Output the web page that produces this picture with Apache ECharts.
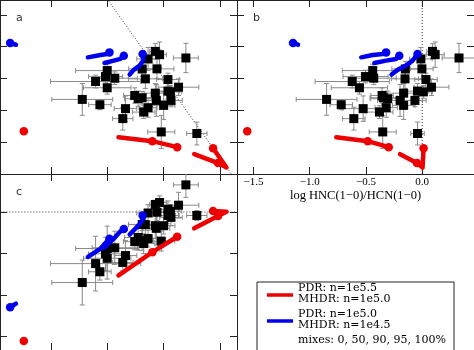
<!DOCTYPE html>
<html><head><meta charset="utf-8">
<script src="https://cdn.jsdelivr.net/npm/echarts@6/dist/echarts.min.js"></script>
<style>html,body{margin:0;padding:0;background:#fff}#c{width:474px;height:350px}</style>
</head><body><div id="c"></div><script>
// Observed sources: X1 = x of panels a & c, Y1 = y of panels a & b,
// H = log HNC(1-0)/HCN(1-0) (x of panel b, y of panel c)
const srcX1 = [-0.303,-0.574,-0.536,-0.638,-0.559,-1.000,-1.015,-0.933,-1.103,-0.662,-0.462,-1.000,-0.368,-0.462,-0.574,-0.756,-0.726,-0.691,-0.565,-0.435,-0.500,-1.221,-1.065,-0.838,-0.638,-0.677,-0.862,-0.521,-0.206,-0.440,-0.690];
const srcY1 = [1.323,1.427,1.375,1.308,1.152,1.125,1.031,1.005,0.953,0.995,0.984,0.855,0.864,0.802,0.770,0.734,0.683,0.698,0.656,0.656,0.578,0.672,0.589,0.527,0.542,0.473,0.370,0.161,0.136,0.790,1.150];
const srcH  = [0.327,0.091,0.115,-0.012,-0.003,-0.440,-0.504,-0.431,-0.622,-0.153,0.033,-0.558,0.082,-0.042,-0.165,-0.357,-0.307,-0.345,-0.197,-0.065,-0.165,-0.850,-0.720,-0.525,-0.320,-0.380,-0.608,-0.351,-0.042,0.010,-0.150];
const errX1 = [0.11,0.05,0.06,0.10,0.15,0.28,0.15,0.20,0.40,0.15,0.10,0.21,0.18,0.10,0.10,0.10,0.12,0.10,0.12,0.10,0.10,0.27,0.10,0.10,0.08,0.10,0.09,0.12,0.09,0.10,0.12];
const errY1 = [0.23,0.12,0.20,0.18,0.15,0.10,0.10,0.10,0.10,0.15,0.10,0.10,0.13,0.12,0.15,0.12,0.12,0.10,0.25,0.10,0.22,0.25,0.08,0.20,0.15,0.10,0.18,0.26,0.18,0.10,0.12];
const errH  = [0.15,0.05,0.08,0.10,0.10,0.27,0.20,0.20,0.33,0.12,0.10,0.25,0.155,0.10,0.15,0.10,0.15,0.12,0.20,0.10,0.10,0.27,0.10,0.18,0.10,0.12,0.10,0.12,0.06,0.08,0.12];

// Model: PDR n=1e5.5 / MHDR n=1e5.0 (red)
const redA_X1 = [-0.900,-0.600,-0.380];
const redA_Y1 = [0.078,0.016,-0.078];
const redA_H  = [-0.764,-0.484,-0.298];
const redB_X1 = [-0.229,-0.018,0.057,-0.062];
const redB_Y1 = [-0.188,-0.328,-0.398,-0.094];
const redB_H  = [-0.197,-0.047,0.003,0.012];
const redDot_X1 = [-1.739,-0.600,-0.380,-0.018,-0.062];
const redDot_Y1 = [0.172,0.016,-0.078,-0.328,-0.094];
const redDot_H  = [-1.555,-0.484,-0.298,-0.047,0.012];
// Model: PDR n=1e5.0 / MHDR n=1e4.5 (blue)
const blue0_X1 = [-1.860,-1.809];
const blue0_Y1 = [1.558,1.531];
const blue0_H  = [-1.148,-1.104];
const blue1_X1 = [-1.171,-1.059,-1.000,-0.980];
const blue1_Y1 = [1.333,1.370,1.386,1.411];
const blue1_H  = [-0.542,-0.440,-0.351,-0.321];
const blue2_X1 = [-1.024,-0.942,-0.883,-0.853];
const blue2_Y1 = [1.245,1.281,1.308,1.359];
const blue2_H  = [-0.425,-0.321,-0.233,-0.204];
const blue3_X1 = [-0.801,-0.765,-0.712,-0.682,-0.686];
const blue3_Y1 = [1.0625,1.136,1.203,1.281,1.386];
const blue3_H  = [-0.272,-0.219,-0.144,-0.086,-0.042];
const blueDot_X1 = [-1.860,-0.980,-0.853,-0.686];
const blueDot_Y1 = [1.558,1.411,1.359,1.386];
const blueDot_H  = [-1.148,-0.321,-0.204,-0.042];

// reference dotted lines
const diagA_X1 = [-1.0, 0.1];
const diagA_Y1 = [2.25, -0.5];
const refB_H = [0, 0];
const refB_Y1 = [-0.5, 2.3];
const refC_X1 = [-2.0, 0.2];
const refC_H = [0, 0];

// ticks
const ticksX1 = [-1.5,-1.0,-0.5,0.0];
const ticksY1 = [-0.5,0,0.5,1.0,1.5,2.0];
const ticksHb = [-1.5,-1.0,-0.5,0.0];
const ticksHc = [0,-0.5,-1.0,-1.5];
const panelNames = ['a','b','c'];
const xTitle = 'log HNC(1\u22120)/HCN(1\u22120)';
const legendRows = ['PDR: n=1e5.5','MHDR: n=1e5.0','PDR: n=1e5.0','MHDR: n=1e4.5','mixes: 0, 50, 90, 95, 100%'];

const RED = '#ee0000', BLUE = '#0000ee';
const zip = (a,b) => a.map((v,i)=>[v,b[i]]);
const axisCol = '#222';

function axis(gridIndex, position, min, max, ticks, label, extra) {
  return Object.assign({
    type:'value', gridIndex, position, min, max,
    axisLine:{show:true, onZero:false, lineStyle:{color:axisCol, width:1}},
    axisTick:{show:true, inside:true, length:7, customValues:ticks, lineStyle:{color:axisCol, width:1}},
    axisLabel: label ? {show:true, customValues:ticks, margin:3, color:'#000',
        fontFamily:'Liberation Serif', fontSize:11,
        formatter: v => (v<0?'\u2212':'') + Math.abs(v).toFixed(1)} : {show:false},
    splitLine:{show:false}
  }, extra||{});
}

const X1min=-1.95, X1max=0.15, Y1min=-0.5, Y1max=2.234, Hbmin=-1.646, Hbmax=0.46, Hcmin=-1.663, Hcmax=0.458;

const xAxes = [
  axis(0,'bottom',X1min,X1max,ticksX1,false),
  axis(0,'top',X1min,X1max,ticksX1,false),
  axis(1,'bottom',Hbmin,Hbmax,ticksHb,true,{name:xTitle,nameLocation:'middle',nameGap:12,
     nameTextStyle:{fontFamily:'Liberation Serif',fontSize:12.5,color:'#000'}}),
  axis(1,'top',Hbmin,Hbmax,ticksHb,false),
  axis(2,'bottom',X1min,X1max,ticksX1,false),
  axis(2,'top',X1min,X1max,ticksX1,false)
];
const yAxes = [
  axis(0,'left',Y1min,Y1max,ticksY1,false),
  axis(0,'right',Y1min,Y1max,ticksY1,false),
  axis(1,'left',Y1min,Y1max,ticksY1,false),
  axis(1,'right',Y1min,Y1max,ticksY1,false),
  axis(2,'left',Hcmin,Hcmax,ticksHc,false),
  axis(2,'right',Hcmin,Hcmax,ticksHc,false)
];

function errRender(params, api) {
  const x=api.value(0), y=api.value(1), ex=api.value(2), ey=api.value(3);
  const c=api.coord([x,y]), l=api.coord([x-ex,y]), r=api.coord([x+ex,y]);
  const t=api.coord([x,y+ey]), b=api.coord([x,y-ey]);
  const cap=2.5, st={stroke:'#8a8a8a', lineWidth:1};
  return {type:'group', children:[
    {type:'line', shape:{x1:l[0],y1:c[1],x2:r[0],y2:c[1]}, style:st},
    {type:'line', shape:{x1:l[0],y1:c[1]-cap,x2:l[0],y2:c[1]+cap}, style:st},
    {type:'line', shape:{x1:r[0],y1:c[1]-cap,x2:r[0],y2:c[1]+cap}, style:st},
    {type:'line', shape:{x1:c[0],y1:t[1],x2:c[0],y2:b[1]}, style:st},
    {type:'line', shape:{x1:c[0]-cap,y1:t[1],x2:c[0]+cap,y2:t[1]}, style:st},
    {type:'line', shape:{x1:c[0]-cap,y1:b[1],x2:c[0]+cap,y2:b[1]}, style:st}
  ]};
}

const src = {X1:srcX1, Y1:srcY1, H:srcH};
const err = {X1:errX1, Y1:errY1, H:errH};
const redCurves = [{X1:redA_X1,Y1:redA_Y1,H:redA_H},{X1:redB_X1,Y1:redB_Y1,H:redB_H}];
const blueCurves = [{X1:blue0_X1,Y1:blue0_Y1,H:blue0_H},{X1:blue1_X1,Y1:blue1_Y1,H:blue1_H},
                    {X1:blue2_X1,Y1:blue2_Y1,H:blue2_H},{X1:blue3_X1,Y1:blue3_Y1,H:blue3_H}];
const redDots = {X1:redDot_X1,Y1:redDot_Y1,H:redDot_H};
const blueDots = {X1:blueDot_X1,Y1:blueDot_Y1,H:blueDot_H};
const refLines = [zip(diagA_X1,diagA_Y1), zip(refB_H,refB_Y1), zip(refC_X1,refC_H)];

const panels = [{kx:'X1',ky:'Y1',ax:0},{kx:'H',ky:'Y1',ax:2},{kx:'X1',ky:'H',ax:4}];
const series = [];
panels.forEach((p,pi)=>{
  const ai = {xAxisIndex:p.ax, yAxisIndex:p.ax};
  series.push(Object.assign({type:'line', data:refLines[pi], showSymbol:false, silent:true, z:1,
     lineStyle:{color:'#333', width:1, type:[1,2]}}, ai));
  series.push(Object.assign({type:'custom', renderItem:errRender, clip:true, z:2,
     data: src[p.kx].map((v,i)=>[v, src[p.ky][i], err[p.kx][i], err[p.ky][i]])}, ai));
  series.push(Object.assign({type:'scatter', symbol:'rect', symbolSize:9, z:3,
     itemStyle:{color:'#000', opacity:1}, data: zip(src[p.kx], src[p.ky])}, ai));
  redCurves.forEach(c=>series.push(Object.assign({type:'line', data:zip(c[p.kx],c[p.ky]), showSymbol:false, z:4,
     lineStyle:{color:RED, width:4.5, cap:'round', join:'round'}}, ai)));
  blueCurves.forEach(c=>series.push(Object.assign({type:'line', data:zip(c[p.kx],c[p.ky]), showSymbol:false, z:4,
     lineStyle:{color:BLUE, width:4.5, cap:'round', join:'round'}}, ai)));
  series.push(Object.assign({type:'scatter', symbol:'circle', symbolSize:8.5, z:5,
     itemStyle:{color:RED, opacity:1}, data: zip(redDots[p.kx], redDots[p.ky])}, ai));
  series.push(Object.assign({type:'scatter', symbol:'circle', symbolSize:8.5, z:5,
     itemStyle:{color:BLUE, opacity:1}, data: zip(blueDots[p.kx], blueDots[p.ky])}, ai));
});

const lf = {fontFamily:'DejaVu Serif', fontSize:11, fill:'#000', textVerticalAlign:'middle'};
const graphic = [
  {type:'text', left:16, top:13, style:{text:panelNames[0], fontFamily:'DejaVu Sans', fontSize:11, fill:'#333'}},
  {type:'text', left:253, top:13, style:{text:panelNames[1], fontFamily:'DejaVu Sans', fontSize:11, fill:'#333'}},
  {type:'text', left:16, top:187, style:{text:panelNames[2], fontFamily:'DejaVu Sans', fontSize:11, fill:'#333'}},
  {type:'rect', shape:{x:257, y:282, width:197, height:72}, style:{fill:'#fff', stroke:'#222', lineWidth:1}, z:10},
  {type:'line', shape:{x1:267,y1:295,x2:293,y2:295}, style:{stroke:RED, lineWidth:3.5}, z:11},
  {type:'line', shape:{x1:267,y1:321,x2:293,y2:321}, style:{stroke:BLUE, lineWidth:3.5}, z:11},
  {type:'text', x:298, y:288.5, style:Object.assign({text:legendRows[0]}, lf), z:11},
  {type:'text', x:298, y:299.5, style:Object.assign({text:legendRows[1]}, lf), z:11},
  {type:'text', x:298, y:314.5, style:Object.assign({text:legendRows[2]}, lf), z:11},
  {type:'text', x:298, y:325.5, style:Object.assign({text:legendRows[3]}, lf), z:11},
  {type:'text', x:298, y:340, style:Object.assign({text:legendRows[4]}, lf), z:11}
];

const chart = echarts.init(document.getElementById('c'), null, {renderer:'canvas'});
chart.setOption({
  animation:false,
  backgroundColor:'#fff',
  grid:[
    {left:-1, top:-1, width:238, height:175},
    {left:237, top:-1, width:238, height:175},
    {left:-1, top:174, width:238, height:176}
  ],
  xAxis:xAxes, yAxis:yAxes, series, graphic
});
</script></body></html>
